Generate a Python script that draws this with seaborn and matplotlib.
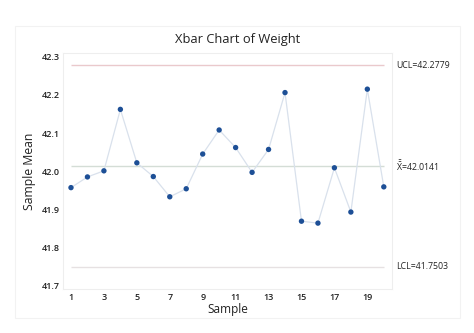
import matplotlib
matplotlib.use("Agg")
import matplotlib.pyplot as plt
import seaborn as sns
import pandas as pd
from matplotlib.patches import Rectangle

samples = list(range(1, 21))
means = [41.957, 41.985, 42.001, 42.162, 42.022, 41.986, 41.933, 41.954, 42.045, 42.108,
         42.062, 41.997, 42.057, 42.206, 41.869, 41.864, 42.009, 41.893, 42.215, 41.959]
ucl = 42.2779
center = 42.0141
lcl = 41.7503
yticks = [41.7, 41.8, 41.9, 42.0, 42.1, 42.2, 42.3]
xticks = [1, 3, 5, 7, 9, 11, 13, 15, 17, 19]

df = pd.DataFrame({"Sample": samples, "Mean": means})

sns.set_theme(style="white")
plt.rcParams['font.family'] = ['Open Sans', 'DejaVu Sans']
plt.rcParams['mathtext.fontset'] = 'custom'
plt.rcParams['mathtext.rm'] = 'Open Sans'

fig = plt.figure(figsize=(4.74, 3.33), dpi=100)
fig.patches.append(Rectangle((15/474, 1-318/333), (460-15)/474, (318-26)/333,
                             transform=fig.transFigure, fill=False,
                             edgecolor='#f2f2f2', linewidth=0.8))
ax = fig.add_axes([63/474, 1-289.3/333, (391.7-63)/474, (289.3-52.7)/333])

ax.hlines(ucl, 1, 20, color='#eac9cc', linewidth=1.0, zorder=1)
ax.hlines(lcl, 1, 20, color='#e6e1e2', linewidth=1.0, zorder=1)
ax.hlines(center, 1, 20, color='#d4ddd6', linewidth=1.0, zorder=1)

sns.lineplot(data=df, x="Sample", y="Mean", ax=ax, color='#d9e1ec', linewidth=0.9, zorder=2)
sns.scatterplot(data=df, x="Sample", y="Mean", ax=ax, color='#1d4f96', s=15,
                edgecolor='none', zorder=3)

ax.set_xlim(0.515, 20.48)
ax.set_ylim(41.6906, 42.3105)
ax.set_xticks(xticks)
ax.set_yticks(yticks)
ax.set_yticklabels([f"{v:.1f}" for v in yticks])
ax.tick_params(axis='both', labelsize=6.5, length=0, pad=2.5, colors='#222222')
for lbl in ax.get_xticklabels() + ax.get_yticklabels():
    lbl.set_fontweight('semibold')
for s in ax.spines.values():
    s.set_color('#eeeeee')
    s.set_linewidth(0.8)

ax.set_xlabel("Sample", fontsize=8.5, color='#222222', labelpad=1)
ax.set_ylabel("Sample Mean", fontsize=8.8, color='#222222', labelpad=4)
fig.text(238/474, 1-40/333, "Xbar Chart of Weight", ha='center', va='center',
         fontsize=9.3, color='#222222')

tx = 396/474
for val, txt in [(ucl, "UCL=42.2779"), (center, r"$\bar{\bar{\mathrm{X}}}$=42.0141"), (lcl, "LCL=41.7503")]:
    ax.annotate(txt, xy=(tx, val), xycoords=('figure fraction', 'data'),
                ha='left', va='center', fontsize=6.3, color='#222222',
                annotation_clip=False)

fig.savefig("out.png", dpi=100)
